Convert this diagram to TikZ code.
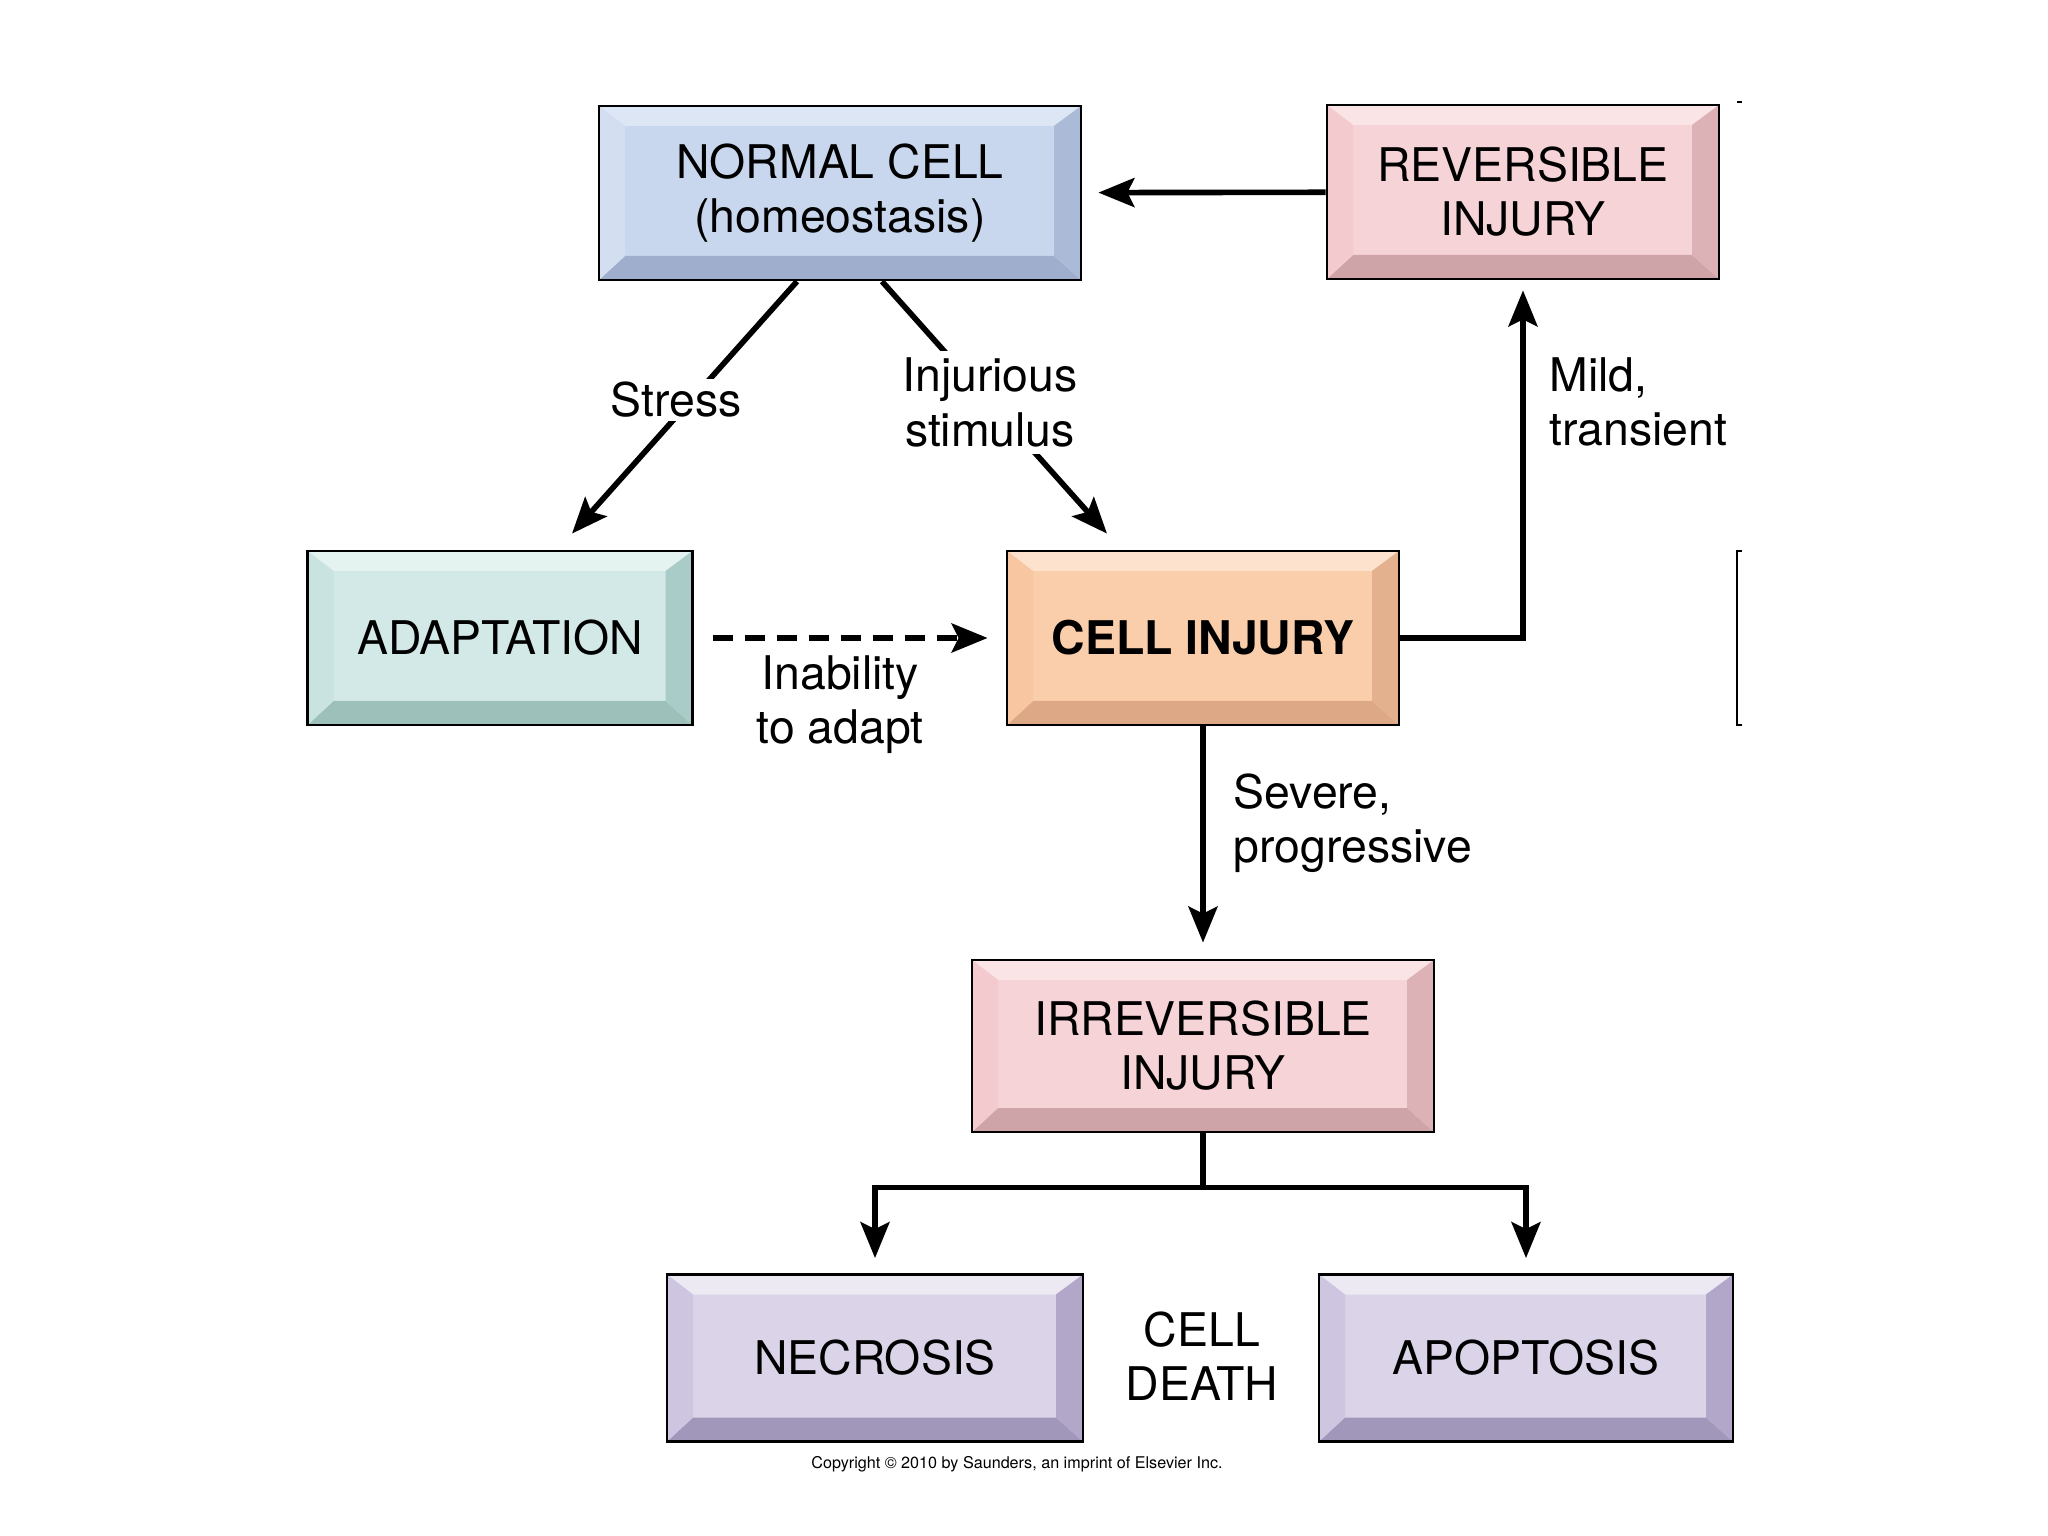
\documentclass[tikz,border=0pt]{standalone}
\usepackage{fontspec}
\setmainfont{TeX Gyre Heros}
\usepackage{color}
\usepackage{tikz}
\usetikzlibrary{arrows.meta}
\usetikzlibrary{calc}

\definecolor{blueface}{HTML}{C9D7EE}
\definecolor{bluetop}{HTML}{DDE6F5}
\definecolor{blueleft}{HTML}{D3DEF1}
\definecolor{blueright}{HTML}{AABAD7}
\definecolor{bluebot}{HTML}{9EAECC}
\definecolor{pinkface}{HTML}{F6D3D6}
\definecolor{pinktop}{HTML}{FAE4E6}
\definecolor{pinkleft}{HTML}{F3CACE}
\definecolor{pinkright}{HTML}{DDB2B7}
\definecolor{pinkbot}{HTML}{CFA4A9}
\definecolor{mintface}{HTML}{D2E9E7}
\definecolor{minttop}{HTML}{E4F2F0}
\definecolor{mintleft}{HTML}{C8E3E0}
\definecolor{mintright}{HTML}{AACCC8}
\definecolor{mintbot}{HTML}{9EC0BB}
\definecolor{peachface}{HTML}{FACEAA}
\definecolor{peachtop}{HTML}{FDE3CE}
\definecolor{peachleft}{HTML}{F8C7A2}
\definecolor{peachright}{HTML}{E3B18E}
\definecolor{peachbot}{HTML}{DDA886}
\definecolor{lilacface}{HTML}{DBD4E8}
\definecolor{lilactop}{HTML}{EDE9F3}
\definecolor{lilacleft}{HTML}{CEC6E0}
\definecolor{lilacright}{HTML}{B2A7C9}
\definecolor{lilacbot}{HTML}{A197BB}

\newcommand{\bevelfill}[1]{%
  \fill[#1top] (path picture bounding box.north west)--(path picture bounding box.north east)
    --([shift={(-0.27,-0.2)}]path picture bounding box.north east)
    --([shift={(0.26,-0.2)}]path picture bounding box.north west)--cycle;
  \fill[#1bot] (path picture bounding box.south west)--(path picture bounding box.south east)
    --([shift={(-0.27,0.24)}]path picture bounding box.south east)
    --([shift={(0.26,0.24)}]path picture bounding box.south west)--cycle;
  \fill[#1left] (path picture bounding box.north west)--([shift={(0.26,-0.2)}]path picture bounding box.north west)
    --([shift={(0.26,0.24)}]path picture bounding box.south west)--(path picture bounding box.south west)--cycle;
  \fill[#1right] (path picture bounding box.north east)--([shift={(-0.27,-0.2)}]path picture bounding box.north east)
    --([shift={(-0.27,0.24)}]path picture bounding box.south east)--(path picture bounding box.south east)--cycle;
}

\begin{document}
\begin{tikzpicture}[>={Stealth[length=0.36cm,width=0.29cm,inset=0.07cm]},
  txt/.style={font=\fontsize{13.2}{15.4}\selectfont, align=center},
  cellbox/.style={txt, draw=black, line width=0.8pt, fill=#1face, minimum height=1.74cm,
    inner sep=0pt, path picture={\bevelfill{#1}}},
  link/.style={line width=1.6pt},
  lbl/.style={txt, fill=white, inner sep=1pt},
  side/.style={txt, align=left, anchor=west, inner sep=0pt},]
\useasboundingbox (0,0) rectangle (20.48,-15.36);
\node[cellbox=blue, minimum width=4.82cm] (normal) at (8.40,-1.93) {NORMAL CELL\\(homeostasis)};
\node[cellbox=pink, minimum width=3.92cm] (rev) at (15.23,-1.92) {REVERSIBLE\\INJURY};
\node[cellbox=mint, minimum width=3.85cm] (adapt) at (5.00,-6.38) {ADAPTATION};
\node[cellbox=peach, minimum width=3.92cm, font=\fontsize{13.2}{15.4}\selectfont\bfseries] (injury) at (12.03,-6.38) {CELL INJURY};
\node[cellbox=pink, minimum width=4.62cm, minimum height=1.72cm] (irrev) at (12.03,-10.46) {IRREVERSIBLE\\INJURY};
\node[cellbox=lilac, minimum width=4.16cm, minimum height=1.67cm] (necro) at (8.75,-13.58) {NECROSIS};
\node[cellbox=lilac, minimum width=4.14cm, minimum height=1.67cm] (apop) at (15.26,-13.58) {APOPTOSIS};
\node[txt] (death) at (12.02,-13.56) {CELL\\DEATH};
\node[font=\fontsize{4.6}{5}\selectfont] (copy) at (10.17,-14.64) {Copyright © 2010 by Saunders, an imprint of Elsevier Inc.};
 \draw [link, ->, shorten >=0.16cm] (rev)--(normal);
 \draw [link, ->] ([xshift=-0.43cm]normal.south)--([xshift=0.72cm,yshift=0.16cm]adapt.north)node[lbl, pos=0.47, xshift=-0.15cm] (stress) {Stress};
 \draw [link, ->] ([xshift=0.42cm]normal.south)--([xshift=-0.96cm,yshift=0.16cm]injury.north)node[lbl, pos=0.48, inner sep=2pt] (stim) {Injurious\\stimulus};
  \draw [link, ->, dash pattern=on 0.2cm off 0.12cm] ([xshift=0.19cm]adapt.east)--([xshift=-0.18cm]injury.west)node[txt, midway, xshift=-0.1cm, yshift=-0.67cm] (unable) {Inability\\to adapt};
  \draw [link, ->, shorten >=0.10cm] (injury.east) -| (rev.south);
\node[side] (mild) at (15.49,-4.02) {Mild,\\transient};
  \draw [link, ->, shorten >=0.16cm] (injury)--(irrev);
\node[side] (severe) at (12.33,-8.23) {Severe,\\progressive};
   \draw [link, ->, shorten >=0.15cm] (irrev.south)--++(0,-0.54) -| (necro.north);
   \draw [link, ->, shorten >=0.15cm] (irrev.south)--++(0,-0.54) -| (apop.north);
\draw [line width=0.8pt] (17.42,-5.51)--(17.37,-5.51)--(17.37,-7.25)--(17.42,-7.25);
\draw [line width=0.8pt] (17.37,-1.02)--(17.42,-1.02);
\end{tikzpicture}
\end{document}
